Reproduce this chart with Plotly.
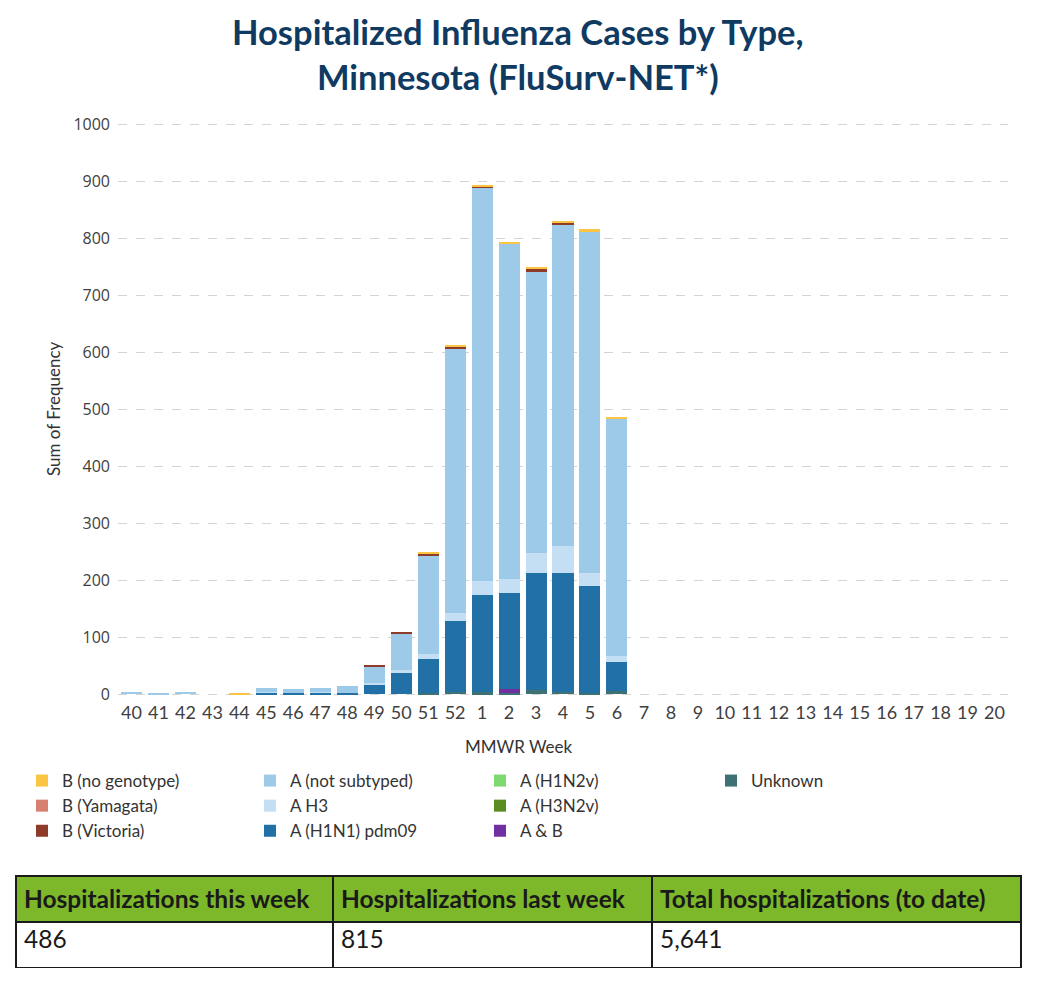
import plotly.graph_objects as go

W, H = 1054, 994

weeks = [str(w) for w in range(40, 53)] + [str(w) for w in range(1, 21)]

# values per series (weeks 40..52, 1..20)
unknown       = [0,0,0,0,0, 0,0,0,0,0, 0,2,4, 3,2,7,4,2,6] + [0]*14
a_and_b       = [0,0,0,0,0, 0,0,0,0,0, 0,0,0, 0,6,0,0,0,0] + [0]*14
a_h3n2v       = [0]*33
a_h1n2v       = [0]*33
a_h1n1        = [0,0,0,0,0, 3,2,2,2,17, 37,60,124, 170,170,206,209,188,51] + [0]*14
a_h3          = [0,0,0,0,0, 1,0,1,0,2, 5,9,14, 26,23,34,47,23,10] + [0]*14
a_not_sub     = [4,1,4,0,0, 7,6,8,12,29, 63,173,465, 690,588,494,562,599,417] + [0]*14
b_victoria    = [0,0,0,0,0, 0,0,0,0,3, 4,3,1, 1,0,5,5,0,0] + [0]*14
b_yamagata    = [0]*33
b_no_genotype = [0,0,0,0,1, 0,0,0,0,0, 0,3,4, 3,4,2,3,3,2] + [0]*14

y_ticks = [0, 100, 200, 300, 400, 500, 600, 700, 800, 900, 1000]

table_header = ["Hospitalizations this week", "Hospitalizations last week", "Total hospitalizations (to date)"]
table_values = ["486", "815", "5,641"]

# series in stacking order (bottom -> top): name, values, color, legend
series = [
    ("Unknown", unknown, "#3D7174", "legend4"),
    ("A & B", a_and_b, "#7030A0", "legend3"),
    ("A (H3N2v)", a_h3n2v, "#5B8C22", "legend3"),
    ("A (H1N2v)", a_h1n2v, "#7DD870", "legend3"),
    ("A (H1N1) pdm09", a_h1n1, "#2271A6", "legend2"),
    ("A H3", a_h3, "#C4DFF3", "legend2"),
    ("A (not subtyped)", a_not_sub, "#9DCAE9", "legend2"),
    ("B (Victoria)", b_victoria, "#8E3B2A", "legend"),
    ("B (Yamagata)", b_yamagata, "#D7806F", "legend"),
    ("B (no genotype)", b_no_genotype, "#FBC443", "legend"),
]

FONT = "Lato"
fig = go.Figure()
for name, vals, color, lg in series:
    fig.add_trace(go.Bar(x=weeks, y=vals, name=name, marker=dict(color=color, line=dict(width=0)),
                         legend=lg))

fig.add_trace(go.Table(
    domain=dict(x=[16 / W, 1021 / W], y=[26 / H, 118 / H]),
    columnwidth=[317, 319, 369],
    header=dict(values=["<b>" + h + "</b>" for h in table_header],
                fill_color="#7CB82A", line=dict(color="#1a1a1a", width=2),
                align="left", height=46,
                font=dict(family=FONT, size=24.5, color="#1a1a1a")),
    cells=dict(values=[[v] for v in table_values],
               fill_color="white", line=dict(color="#1a1a1a", width=2),
               align="left", height=46,
               font=dict(family=FONT, size=24.5, color="#1a1a1a")),
))

def px_x(p):
    return p / W

def px_y(p):
    return 1 - p / H

legend_common = dict(orientation="v", traceorder="reversed", yanchor="top", xanchor="left",
                     font=dict(family=FONT, size=17, color="#333333"), bgcolor="rgba(0,0,0,0)",
                     tracegroupgap=0)
y0_px, y1000_px = 694, 124
k = (y0_px - y1000_px) / 1000.0
fig.update_layout(
    template="none",
    width=W, height=H,
    margin=dict(l=0, r=0, t=0, b=0),
    paper_bgcolor="white", plot_bgcolor="white",
    barmode="stack", bargap=0.22,
    showlegend=True,
    legend=dict(x=px_x(22), y=px_y(763), **legend_common),
    legend2=dict(x=px_x(250), y=px_y(763), **legend_common),
    legend3=dict(x=px_x(480), y=px_y(763), **legend_common),
    legend4=dict(x=px_x(711), y=px_y(763), **legend_common),
    xaxis=dict(domain=[118 / W, 1008 / W], type="category", categoryorder="array", categoryarray=weeks,
               showgrid=False, zeroline=False, showline=False, ticks="", automargin=False,
               ticklabelstandoff=5,
               tickfont=dict(family=FONT, size=18, color="#404040")),
    yaxis=dict(domain=[1 - (y0_px + 2 * k) / H, 1 - (y1000_px - 2 * k) / H], range=[-2, 1002],
               tickvals=y_ticks,
               showgrid=True, gridcolor="#D4D4D4", griddash="dash", gridwidth=1,
               zeroline=False, showline=False, ticks="", automargin=False,
               ticklabelstandoff=7,
               tickfont=dict(family="Open Sans", size=16, color="#404040")),
    annotations=[
        dict(text="<b>Hospitalized Influenza Cases by Type,<br>Minnesota (FluSurv-NET*)</b>",
             x=518 / W, y=px_y(9), xref="paper", yref="paper", showarrow=False,
             xanchor="center", yanchor="top", align="center",
             font=dict(family=FONT, size=34.5, color="#0F3A62")),
        dict(text="MMWR Week", x=519 / W, y=px_y(746), xref="paper", yref="paper",
             showarrow=False, xanchor="center", yanchor="middle",
             font=dict(family=FONT, size=17, color="#333333")),
        dict(text="Sum of Frequency", x=53 / W, y=px_y(409), xref="paper", yref="paper",
             showarrow=False, textangle=-90, xanchor="center", yanchor="middle",
             font=dict(family=FONT, size=17, color="#333333")),
    ],
)

fig.write_html("out.html")
